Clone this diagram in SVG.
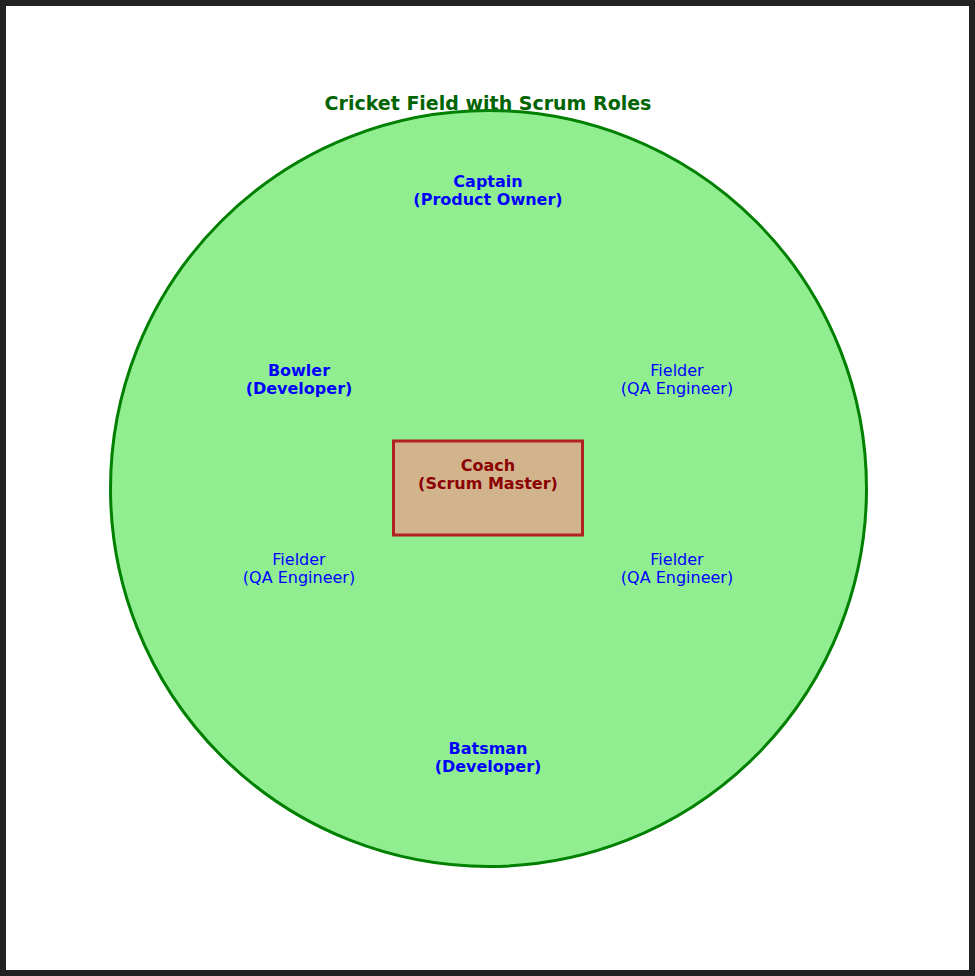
<svg xmlns="http://www.w3.org/2000/svg" width="975" height="976" viewBox="0 0 975 976">
<style>
text{font-family:"DejaVu Sans",sans-serif;text-anchor:middle;font-size:16px;fill:#0000FF}
.b{font-weight:bold}
</style>
<rect x="3" y="3" width="969" height="970" fill="#fff" stroke="#222" stroke-width="6"/>
<text x="488" y="110" class="b" style="font-size:19px;fill:#006400">Cricket Field with Scrum Roles</text>
<g id="field"><circle cx="488.5" cy="488.5" r="378" fill="#90EE90" stroke="#008000" stroke-width="3"/></g>
<g id="connectors"></g>
<g id="captain"><text x="488" y="187" class="b">Captain</text><text x="488" y="205" class="b">(Product Owner)</text></g>
<g id="bowler"><text x="299" y="376" class="b">Bowler</text><text x="299" y="394" class="b">(Developer)</text></g>
<g id="fielder1"><text x="677" y="376">Fielder</text><text x="677" y="394">(QA Engineer)</text></g>
<g id="coach"><rect x="393.5" y="441" width="189" height="94" fill="#D2B48C" stroke="#B22222" stroke-width="3"/>
<text x="488" y="471" class="b" style="fill:#8B0000">Coach</text><text x="488" y="489" class="b" style="fill:#8B0000">(Scrum Master)</text></g>
<g id="fielder2"><text x="299" y="565">Fielder</text><text x="299" y="583">(QA Engineer)</text></g>
<g id="fielder3"><text x="677" y="565">Fielder</text><text x="677" y="583">(QA Engineer)</text></g>
<g id="batsman"><text x="488" y="754" class="b">Batsman</text><text x="488" y="772" class="b">(Developer)</text></g>
</svg>
